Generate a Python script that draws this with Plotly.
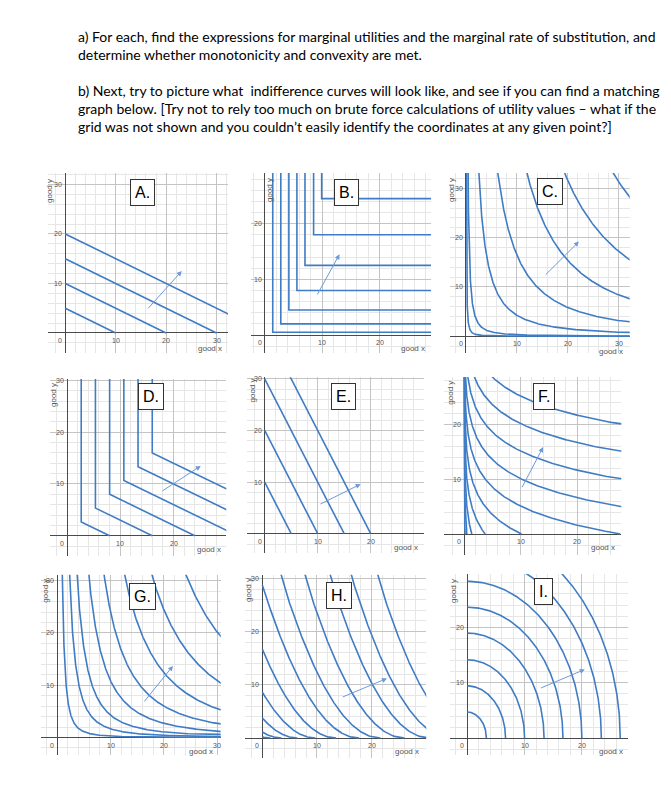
import numpy as np
import plotly.graph_objects as go

W, H = 671, 785

# ---------------- data ----------------
panel_names = ['A', 'B', 'C', 'D', 'E', 'F', 'G', 'H', 'I']
tick_values = [10, 20, 30]

A_levels = [5, 10, 15, 20]                       # x/2 + y = c
B_corner_x = [1.4, 2.8, 4.2, 5.6, 7.0, 8.5, 9.9]  # L-shaped curves, corners
B_corner_y = [0.5, 2.0, 4.5, 8.0, 12.5, 18.0, 24.5]
C_levels = [1, 10, 135, 523, 1376, 2828, 5143]   # x^1.5 * y = K
C_power = 1.5
D_levels = [8, 16, 24, 32, 40, 48]               # min(3x, x + 2y)
E_levels = [10, 20, 30, 40]                      # 2x + y
F_levels = [-8.4, -3.4, 1.6, 6.6, 11.6, 16.6, 21.6, 26.6, 31.6, 36.6]  # y + 5 ln x
F_coef = 5
G_levels = [27.5, 165, 426, 1084, 2400, 4960, 9780, 18150]  # x^2 * y
G_power = 2
H_levels = [1.5, 3.5, 6.4, 9.7, 13.5, 17.7, 21.6, 26.0, 30.6, 34.5, 39.3]  # x + a*sqrt(y)
H_coef = 3.3
I_radii = [3.34, 6.68, 10.0, 13.4, 16.7, 20.0, 23.4, 26.7]  # 2x^2 + y^2 (x-intercepts)

arrow_x0 = [16.2, 9.0, 15.4, 17.6, 10.25, 10.15, 16.1, 14.45, 12.6]
arrow_y0 = [4.7, 7.0, 12.2, 8.45, 5.6, 8.24, 6.6, 7.6, 8.95]
arrow_x1 = [23.1, 13.0, 22.2, 25.1, 18.1, 14.0, 21.7, 22.8, 20.5]
arrow_y1 = [12.5, 14.5, 19.2, 13.5, 9.6, 15.8, 13.7, 11.2, 12.4]

x_ticks_shown = [[10, 20, 30], [10, 20], [10, 20, 30], [10, 20], [10, 20], [10, 20],
                 [10, 20, 30], [10, 20], [10, 20]]
y_ticks_shown = [[10, 20, 30], [10, 20], [10, 20, 30], [10, 20, 30], [10, 20, 30], [10, 20],
                 [10, 20, 30], [10, 20, 30], [10, 20]]

para_lines = [
    "a) For each, find the expressions for marginal utilities and the marginal rate of substitution, and",
    "determine whether monotonicity and convexity are met.",
    "b) Next, try to picture what  indifference curves will look like, and see if you can find a matching",
    "graph below. [Try not to rely too much on brute force calculations of utility values \u2013 what if the",
    "grid was not shown and you couldn\u2019t easily identify the coordinates at any given point?]",
]

# ---------------- layout (pixels) ----------------
# left, right, top, bottom, xrange, yrange
boxes = [
    (40, 220, 165, 345, (-3.43, 32.28), (-4.04, 32.3)),
    (243, 423, 165, 345, (-2.38, 28.9), (-3.23, 29.1)),
    (441.7, 621.7, 165, 345, (-3.14, 32.16), (-3.39, 33.1)),
    (41.7, 218.3, 371, 547.7, (-3.25, 29.9), (-3.87, 30.3)),
    (239, 415.7, 369.3, 545, (-3.34, 30.0), (-3.74, 30.3)),
    (436, 613.3, 369, 546.7, (-3.54, 27.84), (-3.76, 28.55)),
    (33.3, 212.7, 566.7, 746.7, (-3.0, 30.66), (-3.29, 31.15)),
    (236.7, 418.3, 566.7, 750, (-3.22, 30.0), (-3.76, 30.7)),
    (441.7, 620, 566, 746.7, (-3.07, 28.05), (-2.96, 29.6)),
]
goody_px = [(42, 183), (262, 182), (444, 182), (45, 387), (243.5, 383), (441.7, 385),
            (36.7, 583), (240, 582), (445, 583)]
goodx_px = [(201.7, 340), (405, 340), (602.7, 343), (201, 541), (397.7, 539), (595, 539),
            (193.3, 743.5), (399, 743.3), (602.7, 743.3)]
label_px = [(134.5, 185), (338.2, 185), (541.5, 183.5), (142.8, 388.8), (335, 388.8),
            (535.8, 388.8), (134.7, 588), (330.8, 587.8), (535, 583.3)]

BLUE = '#3f7cc4'
ARROW = '#6b9ada'


def curves(name):
    out = []
    if name == 'A':
        for c in A_levels:
            out.append(([0, 2 * c], [c, 0]))
    elif name == 'B':
        for cx, cy in zip(B_corner_x, B_corner_y):
            out.append(([cx, cx, 60], [60, cy, cy]))
    elif name == 'C':
        for k in C_levels:
            xs = np.geomspace((k / 60) ** (1 / C_power), 60, 600)
            out.append((xs, k / xs ** C_power))
    elif name == 'D':
        for u in D_levels:
            out.append(([u / 3, u / 3, u], [60, u / 3, 0]))
    elif name == 'E':
        for c in E_levels:
            out.append(([0, c / 2], [c, 0]))
    elif name == 'F':
        for c in F_levels:
            xs = np.geomspace(np.exp((c - 60) / F_coef), min(np.exp(c / F_coef), 60), 600)
            out.append((xs, c - F_coef * np.log(xs)))
    elif name == 'G':
        for k in G_levels:
            xs = np.geomspace((k / 60) ** (1 / G_power), 60, 600)
            out.append((xs, k / xs ** G_power))
    elif name == 'H':
        for u in H_levels:
            ys = np.linspace(0, min(60, (u / H_coef) ** 2), 400)
            out.append((u - H_coef * np.sqrt(ys), ys))
    elif name == 'I':
        t = np.linspace(0, np.pi / 2, 300)
        for r in I_radii:
            out.append((r * np.cos(t), np.sqrt(2) * r * np.sin(t)))
    return out


fig = go.Figure()
annotations = []
layout = {}
gray = '#555555'
lab_font = dict(family='Liberation Sans', size=7, color=gray)

for i, name in enumerate(panel_names):
    n = '' if i == 0 else str(i + 1)
    l, r, t, b, xr, yr = boxes[i]
    layout['xaxis' + n] = dict(
        domain=[l / W, r / W], range=list(xr), anchor='y' + n,
        showgrid=True, gridcolor='#c4c4c4', gridwidth=1, tick0=0, dtick=10,
        minor=dict(tick0=0, dtick=2, showgrid=True, gridcolor='#e6e6e6', gridwidth=1),
        zeroline=True, zerolinecolor='#4a4a4a', zerolinewidth=1.4,
        showticklabels=False, ticks='', showline=False, fixedrange=True)
    layout['yaxis' + n] = dict(
        domain=[1 - b / H, 1 - t / H], range=list(yr), anchor='x' + n,
        showgrid=True, gridcolor='#c4c4c4', gridwidth=1, tick0=0, dtick=10,
        minor=dict(tick0=0, dtick=2, showgrid=True, gridcolor='#e6e6e6', gridwidth=1),
        zeroline=True, zerolinecolor='#4a4a4a', zerolinewidth=1.4,
        showticklabels=False, ticks='', showline=False, fixedrange=True)
    xa, ya = 'x' + n, 'y' + n
    for xs, ys in curves(name):
        fig.add_trace(go.Scatter(x=list(xs), y=list(ys), mode='lines', xaxis=xa, yaxis=ya,
                                 line=dict(color=BLUE, width=1.6), showlegend=False,
                                 hoverinfo='skip'))
    # tick labels
    for tv in x_ticks_shown[i]:
        annotations.append(dict(x=tv, y=0, xref=xa, yref=ya, text=str(tv), showarrow=False,
                                yanchor='top', yshift=-2, font=lab_font))
    for tv in y_ticks_shown[i]:
        annotations.append(dict(x=0, y=tv, xref=xa, yref=ya, text=str(tv), showarrow=False,
                                xanchor='right', xshift=-1, font=lab_font))
    annotations.append(dict(x=0, y=0, xref=xa, yref=ya, text='0', showarrow=False,
                            xanchor='center', xshift=-5, yanchor='top', yshift=-2, font=lab_font))
    # arrow
    annotations.append(dict(x=arrow_x1[i], y=arrow_y1[i], ax=arrow_x0[i], ay=arrow_y0[i],
                            xref=xa, yref=ya, axref=xa, ayref=ya, text='', showarrow=True,
                            arrowhead=2, arrowsize=1, arrowwidth=1, arrowcolor=ARROW))
    # axis names
    gx, gy = goody_px[i]
    annotations.append(dict(x=gx / W, y=1 - gy / H, xref='paper', yref='paper', text='good y',
                            textangle=-90, showarrow=False, xanchor='center', yanchor='middle',
                            font=dict(family='Liberation Sans', size=8, color=gray)))
    gx, gy = goodx_px[i]
    annotations.append(dict(x=gx / W, y=1 - gy / H, xref='paper', yref='paper', text='good x',
                            showarrow=False, xanchor='center', yanchor='middle',
                            font=dict(family='Liberation Sans', size=8, color=gray)))
    # panel letter box
    lx, ly = label_px[i]
    annotations.append(dict(x=lx / W, y=1 - ly / H, xref='paper', yref='paper', text=name + '.',
                            showarrow=False, xanchor='center', yanchor='middle',
                            bgcolor='white', bordercolor='#333333', borderwidth=1, borderpad=4,
                            font=dict(family='Liberation Sans', size=16, color='black')))

line_y = [28.3, 46.3, 82.7, 101, 119]
for txt, y in zip(para_lines, line_y):
    annotations.append(dict(x=68 / W, y=1 - y / H, xref='paper', yref='paper', text=txt,
                            showarrow=False, xanchor='left', yanchor='middle',
                            font=dict(family='Lato', size=14, color='black')))

fig.update_layout(width=W, height=H, margin=dict(l=0, r=0, t=0, b=0),
                  paper_bgcolor='white', plot_bgcolor='white',
                  annotations=annotations, **layout)

fig.write_html('out.html')
